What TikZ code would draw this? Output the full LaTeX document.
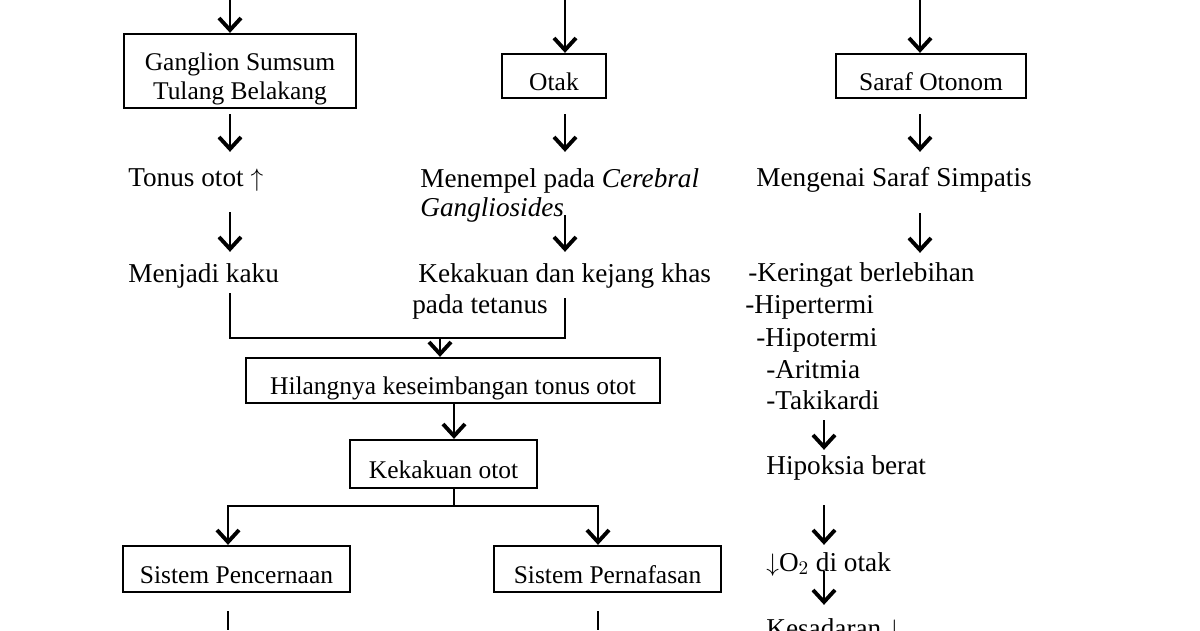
\documentclass[tikz,border=0pt]{standalone}
\usepackage{amsmath, amssymb}
\usepackage{fontspec}
\setmainfont{Liberation Serif}
\usetikzlibrary{arrows.meta}

\begin{document}
\begin{tikzpicture}[x=0.02cm, y=-0.02cm,
    kotak/.style={draw, line width=1.3pt, inner sep=0pt, text height=16pt, text depth=0pt, font=\fontsize{14.5}{17}\selectfont},
    teks/.style={anchor=base west, inner sep=0pt, text height=11pt, text depth=3pt, font=\fontsize{15.5}{16.5}\selectfont},
    garis/.style={line width=1.3pt},
    panah/.style={garis, -{Straight Barb[length=0.24cm, width=0.44cm, line width=2.2pt]}}]

    % Batas gambar
    \useasboundingbox (0,0) rectangle (1200,630);
    \fill[white] (0,0) rectangle (1200,630);
    \clip (0,0) rectangle (1200,630);

    % Titik bantu kolom
    \coordinate (k1) at (230,0);
    \coordinate (k2) at (565,0);
    \coordinate (k3) at (920,0);
    \coordinate (k4) at (824,0);
    \coordinate (k5) at (454,0);
    \coordinate (kc) at (228,0);
    \coordinate (kn) at (598,0);
    \coordinate (gabung) at (440,338);
    \coordinate (cabang) at (454,506);
    \coordinate (bawah1) at (228,630);
    \coordinate (bawah2) at (598,630);

    % Kotak
    \node[draw, line width=1.3pt, inner sep=0pt, font=\fontsize{14.5}{17}\selectfont, minimum width=4.64cm, minimum height=1.48cm] (gsum) at (240,71)
        {\raisebox{-0.16cm}[\height][\depth]{\begin{tabular}{@{}c@{}}Ganglion Sumsum\\Tulang Belakang\end{tabular}}};
    \node[kotak, minimum width=2.08cm, minimum height=0.88cm] (otak) at (554,76) {Otak};
    \node[kotak, minimum width=3.8cm, minimum height=0.88cm] (otonom) at (931,76) {Saraf Otonom};
    \node[kotak, minimum width=8.28cm, minimum height=0.9cm] (hilang) at (453,380.5) {Hilangnya keseimbangan tonus otot};
    \node[kotak, minimum width=3.74cm, minimum height=0.96cm] (kaku) at (443.5,464) {Kekakuan otot};
    \node[kotak, minimum width=4.54cm, minimum height=0.92cm] (cerna) at (236.5,569) {Sistem Pencernaan};
    \node[kotak, minimum width=4.54cm, minimum height=0.92cm] (nafas) at (607.5,569) {Sistem Pernafasan};

    % Teks bebas
    \node[teks] (tonus) at (128,186) {Tonus otot $\uparrow$};
    \node[teks] (menjadi) at (128,282) {Menjadi kaku};
    \node[teks] (menempel1) at (420,187) {Menempel pada \textit{Cerebral}};
    \node[teks] (menempel2) at (420,216) {\textit{Gangliosides}};
    \node[teks] (kejang1) at (418,282) {Kekakuan dan kejang khas};
    \node[teks] (kejang2) at (412,313) {pada tetanus};
    \node[teks] (simpatis) at (756,186) {Mengenai Saraf Simpatis};

    % Gejala saraf simpatis
    \foreach \x/\y/\nama/\isi in {748/281/keringat/-Keringat berlebihan, 745/313/hiper/-Hipertermi,
        756/346/hipo/-Hipotermi, 766/378/aritmia/-Aritmia, 766/409/takikardi/-Takikardi}
        \node[teks] (\nama) at (\x,\y) {\isi};

    \node[teks] (hipoksia) at (766,474) {Hipoksia berat};
    \node[teks] (oksigen) at (766,571) {$\downarrow$O$_2$ di otak};
    \node[teks] (sadar) at (766,637) {Kesadaran $\downarrow$};

    % Panah dari atas
    \foreach \k/\b in {k1/gsum, k2/otak, k3/otonom}
        \draw[panah] (\k) -- (\k |- \b.north);

    % Kolom kiri
    \draw[panah, shorten <=0.1cm, shorten >=0.29cm] (gsum.south -| k1) -- (tonus.north -| k1);
    \draw[panah, shorten <=0.41cm, shorten >=0.21cm] (tonus.south -| k1) -- (menjadi.north -| k1);

    % Kolom tengah
    \draw[panah, shorten <=0.3cm, shorten >=0.31cm] (otak.south -| k2) -- (menempel1.north -| k2);
    \draw[panah, shorten <=0.45cm, shorten >=0.21cm] (menempel1.south -| k2) -- (kejang1.north -| k2);

    % Gabungan kiri dan tengah
    \draw[garis, shorten <=0.11cm, shorten >=0.21cm] (menjadi.south -| k1) |- (gabung) -| (kejang1.south -| k2);
    \draw[panah] (gabung) -- (gabung |- hilang.north);
    \draw[panah] (hilang.south -| k5) -- (kaku.north -| k5);

    % Percabangan
    \draw[garis] (kaku.south -| k5) -- (cabang);
    \draw[panah] (cabang) -| (cerna.north -| kc);
    \draw[panah] (cabang) -| (nafas.north -| kn);
    \draw[garis, shorten <=0.36cm] (cerna.south -| kc) -- (bawah1);
    \draw[garis, shorten <=0.36cm] (nafas.south -| kn) -- (bawah2);

    % Kolom kanan
    \draw[panah, shorten <=0.3cm, shorten >=0.29cm] (otonom.south -| k3) -- (simpatis.north -| k3);
    \draw[panah, shorten <=0.43cm, shorten >=0.17cm] (simpatis.south -| k3) -- (keringat.north -| k3);
    \draw[panah, shorten <=0.11cm, shorten >=0.09cm] (takikardi.south -| k4) -- (hipoksia.north -| k4);
    \draw[panah, shorten <=0.51cm, shorten >=0.13cm] (hipoksia.south -| k4) -- (oksigen.north -| k4);
    \draw[panah, shorten >=0.25cm] (oksigen.base -| k4) -- (sadar.north -| k4);
\end{tikzpicture}
\end{document}
